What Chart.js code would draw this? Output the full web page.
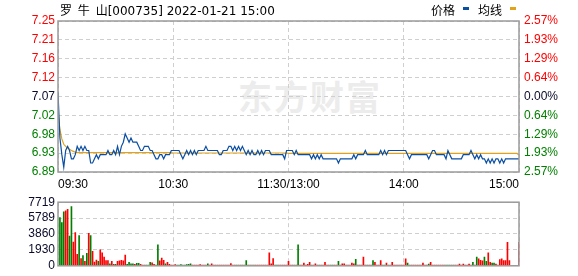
<!DOCTYPE html>
<html><head><meta charset="utf-8">
<script src="https://cdn.jsdelivr.net/npm/chart.js@4/dist/chart.umd.min.js"></script>
<style>
html,body{margin:0;padding:0;background:#fff;width:578px;height:276px;overflow:hidden;}
#wrap{position:relative;width:578px;height:276px;}
canvas{position:absolute;left:0;}
#c1{top:0;} #c2{top:192px;}
#title{position:absolute;left:60px;top:1px;font:12px "DejaVu Sans","Noto Sans CJK SC",sans-serif;color:#000;white-space:pre;}
#title .n{word-spacing:2px;}
#legend{position:absolute;left:431px;top:1px;font:12px "Noto Sans CJK SC",sans-serif;color:#000;white-space:pre;}
#legend span.b{display:inline-block;width:6px;height:3px;vertical-align:middle;margin:0 9px 0 8px;position:relative;top:-3px;}
#wm{position:absolute;left:238px;top:71px;font:bold 34px "Noto Sans CJK SC",sans-serif;color:#ececec;letter-spacing:2px;}
</style></head>
<body><div id="wrap">
<div id="wm">东方财富</div>
<canvas id="c1" width="578" height="192"></canvas>
<canvas id="c2" width="578" height="84"></canvas>
<div id="title"><span class="n">罗 牛 山</span>[000735] 2022-01-21 15:00</div>
<div id="legend">价格<span class="b" style="background:#0b4fa3"></span>均线<span class="b" style="background:#e3a21a"></span></div>
</div>
<script>
// ---- data ----
const prevClose = 7.07;
const pctRange = 2.57;
const timeTickPos = [0, 60, 120, 180, 240];
const timeLabels = ['09:30', '10:30', '11:30/13:00', '14:00', '15:00'];
const priceTicks = ['6.89','6.93','6.98','7.02','7.07','7.12','7.16','7.21','7.25'];
const pctTicks = ['2.57%','1.93%','1.29%','0.64%','0.00%','0.64%','1.29%','1.93%','2.57%'];
const volTicks = [0, 1930, 3860, 5789, 7719];
const volTickLabels = ['0','1930','3860','5789','7719'];

const price = [
7.08,6.97,6.93,6.90,6.94,6.95,6.94,6.92,6.92,6.93,
6.95,6.94,6.95,6.94,6.95,6.94,6.94,6.91,6.91,6.92,
6.93,6.92,6.93,6.93,6.93,6.93,6.94,6.93,6.93,6.94,
6.93,6.95,6.93,6.95,6.96,6.98,6.97,6.96,6.97,6.96,
6.96,6.96,6.95,6.94,6.94,6.95,6.95,6.95,6.94,6.94,
6.93,6.92,6.92,6.93,6.93,6.92,6.93,6.93,6.93,6.94,
6.94,6.94,6.94,6.94,6.93,6.92,6.93,6.94,6.93,6.94,
6.93,6.94,6.93,6.94,6.94,6.94,6.94,6.95,6.94,6.94,
6.94,6.94,6.94,6.94,6.93,6.93,6.94,6.94,6.94,6.95,
6.95,6.94,6.95,6.94,6.95,6.94,6.95,6.94,6.93,6.94,
6.93,6.94,6.93,6.93,6.94,6.93,6.94,6.93,6.94,6.94,
6.94,6.93,6.93,6.93,6.93,6.93,6.93,6.93,6.92,6.94,
6.94,6.94,6.94,6.93,6.94,6.93,6.93,6.93,6.93,6.93,
6.93,6.93,6.92,6.93,6.92,6.93,6.92,6.93,6.92,6.92,
6.92,6.92,6.92,6.92,6.92,6.92,6.91,6.92,6.92,6.92,
6.92,6.92,6.92,6.92,6.93,6.92,6.93,6.93,6.93,6.93,
6.94,6.93,6.93,6.93,6.93,6.93,6.93,6.93,6.94,6.93,
6.94,6.93,6.94,6.94,6.94,6.94,6.94,6.94,6.94,6.94,
6.94,6.94,6.93,6.92,6.93,6.93,6.93,6.93,6.93,6.93,
6.93,6.93,6.93,6.92,6.93,6.94,6.94,6.93,6.93,6.93,
6.93,6.93,6.92,6.94,6.93,6.92,6.92,6.92,6.92,6.92,
6.92,6.93,6.93,6.93,6.93,6.94,6.93,6.92,6.93,6.92,
6.93,6.92,6.92,6.91,6.92,6.91,6.92,6.91,6.92,6.92,
6.91,6.92,6.91,6.92,6.92,6.92,6.92,6.92,6.92,6.92,
6.92];

const avg = [
7.030,6.990,6.968,6.955,6.950,6.946,6.943,6.940,6.938,6.936,
6.935,6.935,6.935,6.935,6.935,6.935,6.935,6.935,6.935,6.935,
6.935,6.935,6.935,6.935,6.935,6.935,6.935,6.935,6.935,6.935,
6.935,6.935,6.935,6.935,6.935,6.935,6.935,6.935,6.935,6.935,
6.935,6.935,6.935,6.935,6.935,6.935,6.935,6.935,6.935,6.935,
6.935,6.935,6.935,6.935,6.935,6.935,6.935,6.935,6.935,6.935,
6.934,6.934,6.934,6.934,6.934,6.934,6.934,6.934,6.934,6.934,
6.934,6.934,6.934,6.934,6.934,6.934,6.934,6.934,6.934,6.934,
6.934,6.934,6.934,6.934,6.934,6.934,6.934,6.934,6.934,6.934,
6.934,6.934,6.934,6.934,6.934,6.934,6.934,6.934,6.934,6.934,
6.934,6.934,6.934,6.934,6.934,6.934,6.934,6.934,6.934,6.934,
6.934,6.934,6.934,6.934,6.934,6.934,6.934,6.934,6.934,6.934,
6.933,6.933,6.933,6.933,6.933,6.933,6.933,6.933,6.933,6.933,
6.933,6.933,6.933,6.933,6.933,6.933,6.933,6.933,6.933,6.933,
6.933,6.933,6.933,6.933,6.933,6.933,6.933,6.933,6.933,6.933,
6.933,6.933,6.933,6.933,6.933,6.933,6.933,6.933,6.933,6.933,
6.933,6.933,6.933,6.933,6.933,6.933,6.933,6.933,6.933,6.933,
6.933,6.933,6.933,6.933,6.933,6.933,6.933,6.933,6.933,6.933,
6.933,6.933,6.933,6.933,6.933,6.933,6.933,6.933,6.933,6.933,
6.933,6.933,6.933,6.933,6.933,6.933,6.933,6.933,6.933,6.933,
6.933,6.933,6.933,6.933,6.933,6.933,6.933,6.933,6.933,6.933,
6.933,6.933,6.933,6.933,6.933,6.933,6.933,6.933,6.933,6.933,
6.933,6.933,6.933,6.933,6.933,6.933,6.933,6.933,6.933,6.933,
6.933,6.933,6.933,6.933,6.933,6.933,6.933,6.933,6.933,6.933,
6.929];

const volume = [
0,5860,5260,6560,6670,6840,3610,7190,2880,4040,
1400,3680,880,1230,530,1510,3930,3680,1750,460,
700,530,1930,1580,1050,630,630,250,530,180,
180,530,600,650,600,1300,180,420,250,250,
180,300,300,180,100,100,100,100,420,350,
180,100,2530,600,950,650,250,420,180,100,
100,150,100,100,150,100,100,150,180,250,
100,100,100,100,150,100,100,100,250,100,
250,100,100,100,100,100,100,100,100,100,
280,100,100,100,100,100,100,100,630,100,
100,100,100,100,100,100,100,100,100,100,
1580,250,880,100,100,100,100,100,100,100,
530,100,100,100,100,2530,100,100,320,100,
180,420,100,100,250,100,100,100,100,420,
100,100,100,100,100,100,530,100,250,250,
100,100,100,320,250,800,100,100,100,1050,
100,100,100,100,630,420,100,100,630,100,
100,320,100,100,420,100,100,100,100,100,
100,840,320,100,100,100,100,100,100,100,
320,100,100,200,420,100,100,100,100,100,
100,100,100,100,100,100,100,100,100,200,
100,200,100,100,200,100,420,100,1050,840,
670,600,1050,530,1580,420,320,320,200,100,
740,840,630,630,2840,630,0,0,0,0,
2840];

// 1 = up minute (red bar), 0 = down minute (green bar)
const volUp = [
1,0,0,0,1,1,0,0,1,1,
1,0,1,0,1,0,1,0,1,1,
1,0,1,1,1,1,1,0,1,1,
0,1,1,1,1,1,0,0,0,0,
1,0,0,1,1,1,0,0,0,1,
1,0,0,1,1,1,0,1,1,1,
1,1,0,0,0,0,0,0,0,0,
1,1,1,1,1,1,1,1,0,1,
1,1,1,1,1,1,1,1,1,1,
1,1,1,0,1,0,1,0,0,1,
0,1,0,1,1,1,1,1,1,1,
1,1,1,0,0,1,1,1,1,1,
1,1,1,0,1,0,1,1,1,1,
1,1,0,1,1,1,0,1,1,1,
1,1,0,0,1,1,0,1,1,1,
1,1,1,1,1,0,1,1,1,1,
1,0,1,1,0,1,1,1,1,0,
0,1,0,1,1,1,1,1,1,1,
1,1,0,0,1,1,1,1,1,1,
1,1,1,0,1,1,1,1,1,1,
1,1,0,0,0,1,0,1,1,1,
1,1,1,1,1,1,0,1,0,1,
1,1,0,0,1,1,0,0,1,0,
1,1,1,1,1,1,1,1,1,1,
1];

// ---- styles ----
const RED = '#ff0000', GREEN = '#008000', DARK = '#0a0a2a';
const GRID = '#cfcfcf';
Chart.defaults.font.family = '"Liberation Sans", Arial, sans-serif';
Chart.defaults.font.size = 12;

const frame = {
  id: 'frame',
  afterDatasetsDraw(c) {
    const a = c.chartArea, ctx = c.ctx;
    ctx.save();
    ctx.strokeStyle = '#9a9a9a';
    ctx.lineWidth = 1.5;
    ctx.strokeRect(a.left, a.top, a.right - a.left, a.bottom - a.top);
    ctx.restore();
  }
};

const yMin = prevClose * (1 - pctRange / 100);
const yMax = prevClose * (1 + pctRange / 100);
const evenTicks = (n) => (s) => {
  const st = (yMax - yMin) / (n - 1);
  s.ticks = Array.from({length: n}, (_, k) => ({value: yMin + k * st}));
};
const sideColor = (ctx) => ctx.index < 4 ? GREEN : (ctx.index === 4 ? DARK : RED);

const xAxis = (showLabels, h) => ({
  type: 'linear', min: 0, max: 240, offset: false,
  afterBuildTicks: (s) => { s.ticks = timeTickPos.map(v => ({value: v})); },
  afterFit: (s) => { s.height = h; },
  ticks: {display: showLabels, autoSkip: false, maxRotation: 0, align: 'inner', padding: 5, color: '#000',
          callback: (v, i) => timeLabels[i]},
  grid: {color: GRID, lineWidth: 1, drawTicks: false, offset: false},
  border: {display: false, dash: [4, 3]}
});

new Chart(document.getElementById('c1'), {
  type: 'line',
  data: {datasets: [
    {label: '价格', data: price.map((v, i) => ({x: i, y: v})), borderColor: '#0b4fa3', borderWidth: 1.2,
     pointRadius: 0, tension: 0, yAxisID: 'y', order: 1},
    {label: '均线', data: avg.map((v, i) => ({x: i, y: v})), borderColor: '#e3a21a', borderWidth: 1.2,
     pointRadius: 0, tension: 0, yAxisID: 'y', order: 2}
  ]},
  options: {
    responsive: false, animation: false, events: [],
    layout: {padding: {top: 21, left: 0, right: 0, bottom: 0}},
    plugins: {legend: {display: false}, tooltip: {enabled: false}},
    scales: {
      x: xAxis(true, 20),
      y: {position: 'left', min: yMin, max: yMax,
          afterBuildTicks: evenTicks(9), afterFit: (s) => { s.width = 58; },
          ticks: {padding: 3, autoSkip: false, color: sideColor, callback: (v, i) => priceTicks[i]},
          grid: {color: GRID, drawTicks: false}, border: {display: false, dash: [4, 3]}},
      y2: {position: 'right', min: yMin, max: yMax,
          afterBuildTicks: evenTicks(9), afterFit: (s) => { s.width = 59; },
          ticks: {padding: 5, autoSkip: false, color: sideColor, callback: (v, i) => pctTicks[i]},
          grid: {display: false, drawTicks: false}, border: {display: false}}
    }
  },
  plugins: [frame]
});

new Chart(document.getElementById('c2'), {
  type: 'bar',
  data: {datasets: [
    {label: '成交量', data: volume.map((v, i) => ({x: i, y: v})),
     backgroundColor: volUp.map(u => u ? RED : GREEN), barThickness: 1}
  ]},
  options: {
    responsive: false, animation: false, events: [],
    layout: {padding: {top: 5, left: 0, right: 59, bottom: 0}},
    plugins: {legend: {display: false}, tooltip: {enabled: false}},
    scales: {
      x: xAxis(false, 6),
      y: {position: 'left', min: 0, max: volTicks[volTicks.length - 1],
          afterBuildTicks: (s) => { s.ticks = volTicks.map(v => ({value: v})); },
          afterFit: (s) => { s.width = 58; },
          ticks: {padding: 3, autoSkip: false, color: DARK, callback: (v, i) => volTickLabels[i]},
          grid: {color: GRID, drawTicks: false}, border: {display: false, dash: [4, 3]}}
    }
  },
  plugins: [frame]
});
</script>
</body></html>
